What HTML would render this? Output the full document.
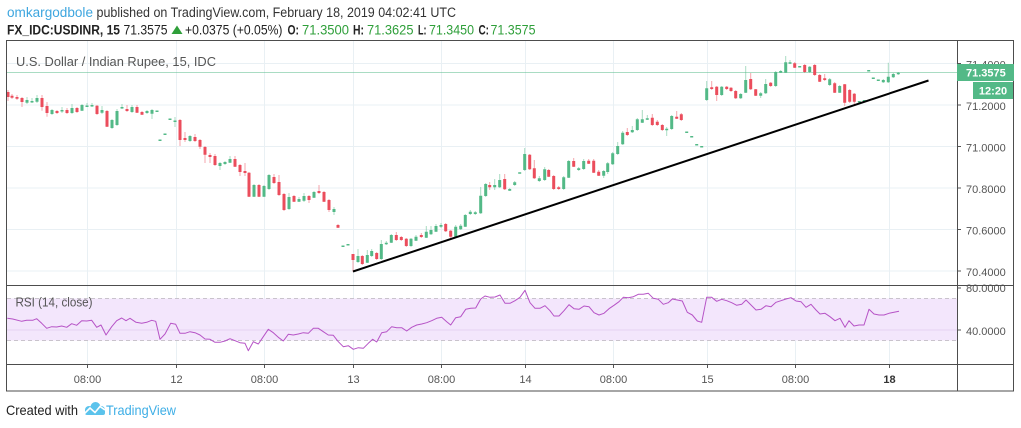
<!DOCTYPE html>
<html><head><meta charset="utf-8"><style>
html,body{margin:0;padding:0;background:#fff;}
svg{display:block;}
</style></head><body>
<svg width="1021" height="428" viewBox="0 0 1021 428" xmlns="http://www.w3.org/2000/svg" font-family="'Liberation Sans', sans-serif">
<defs><clipPath id="cp"><rect x="7" y="41" width="950" height="244"/></clipPath>
<clipPath id="cr"><rect x="7" y="286" width="950" height="78"/></clipPath></defs>
<rect width="1021" height="428" fill="#fff"/>
<!-- header -->
<text x="7" y="17" font-size="13.5" fill="#3ea6df" textLength="86" lengthAdjust="spacingAndGlyphs">omkargodbole</text>
<text x="96.5" y="17" font-size="13.5" fill="#333" textLength="359.5" lengthAdjust="spacingAndGlyphs">published on TradingView.com, February 18, 2019 04:02:41 UTC</text>
<g font-size="13.5">
<text x="7" y="34.5" font-weight="bold" fill="#222" textLength="113" lengthAdjust="spacingAndGlyphs">FX_IDC:USDINR, 15</text>
<text x="123.5" y="34.5" fill="#222" textLength="44" lengthAdjust="spacingAndGlyphs">71.3575</text>
<polygon points="171.5,34 182.5,34 177,25.5" fill="#2f9f3a"/>
<text x="185" y="34.5" fill="#222" textLength="97.5" lengthAdjust="spacingAndGlyphs">+0.0375 (+0.05%)</text>
<text x="287.5" y="34.5" font-weight="bold" fill="#222" textLength="11.5" lengthAdjust="spacingAndGlyphs">O:</text>
<text x="302" y="34.5" fill="#2f9f3a" textLength="47" lengthAdjust="spacingAndGlyphs">71.3500</text>
<text x="353" y="34.5" font-weight="bold" fill="#222" textLength="11" lengthAdjust="spacingAndGlyphs">H:</text>
<text x="367" y="34.5" fill="#2f9f3a" textLength="46.5" lengthAdjust="spacingAndGlyphs">71.3625</text>
<text x="418" y="34.5" font-weight="bold" fill="#222" textLength="8.5" lengthAdjust="spacingAndGlyphs">L:</text>
<text x="429" y="34.5" fill="#2f9f3a" textLength="45" lengthAdjust="spacingAndGlyphs">71.3450</text>
<text x="478.5" y="34.5" font-weight="bold" fill="#222" textLength="10.5" lengthAdjust="spacingAndGlyphs">C:</text>
<text x="490.5" y="34.5" fill="#2f9f3a" textLength="45" lengthAdjust="spacingAndGlyphs">71.3575</text>
</g>

<!-- grid -->
<g stroke="#e9f0f4" stroke-width="1">
<path d="M7,63.5H957M7,105H957M7,146.5H957M7,188H957M7,229.5H957M7,271H957"/>
<path d="M87.5,41V364M176.5,41V364M264.5,41V364M353.5,41V364M441.5,41V364M525.5,41V364M613.5,41V364M707.5,41V364M795.5,41V364M889.5,41V364"/>
</g>

<!-- RSI band -->
<rect x="7" y="298.5" width="950" height="42" fill="#f3e6fc"/>
<path d="M7,330H957" stroke="#e4d2f2" stroke-width="1"/>
<path d="M7,298.5H957M7,340.5H957" stroke="#c9c3cc" stroke-width="1" stroke-dasharray="4,3"/>

<!-- price line -->
<path d="M7,72.5H957" stroke="#53b987" stroke-opacity="0.5" stroke-width="1"/>

<!-- candles -->
<g clip-path="url(#cp)">
<path fill="none" stroke="#eb4d5c" stroke-opacity="0.5" stroke-width="1" d="M8,90V101 M12,94V99 M17,95V100 M22,97V107 M42,95V110.7 M47,102V116.7 M57,110V114 M67,108V114 M77,107V113 M97,105V115 M107,110V127 M127,105V112 M137,105V113 M142,111V115 M180,119V146 M185,132V142 M195,134V142 M200,139V149 M205,146V163 M210,153V163 M215,154V166 M235,156V167 M240,164V176 M245,163V176 M249,172V197 M259,184V197 M274,174V184 M279,175V196 M284,193V211 M294,195V202 M309,195V203 M319,185V194 M324,191V202 M329,199V212 M338,224V228 M353,254V271.7 M362.3,255V265 M376.7,252V260 M396.3,232V241 M401.3,236V241 M406.3,238V247 M421.3,233V238 M445.7,223V232 M450.7,230V238 M489.7,182V190 M504.7,174V190 M529.7,154V170 M534.3,160V179 M548.7,169V177 M553.7,175V190 M558.7,186V190 M573.7,158V167 M588.7,159V164 M593.7,159V173 M598.7,170V176 M627.3,128V136 M652.3,114V126 M657.3,120V126 M662.3,124V131 M676.7,111V119 M681.3,113V121 M711.7,81V90 M716.7,86V101 M726.7,86V90 M731,87V92 M735.7,90V99 M750.7,73V90 M755.7,89V96 M770.7,82V87 M794.7,62V68 M804.7,64V73 M814.7,64V76 M819.7,74V82 M824.7,74V81 M834.7,82V93 M844.7,84V106 M849.7,89V103 M854.3,93V105"/>
<path fill="none" stroke="#53b987" stroke-opacity="0.5" stroke-width="1" d="M27,97V104 M32,98V103 M37,95V103 M52,109V115 M62,107V113 M72,104V114 M82,104V111 M87,103V107 M92,103V107 M102,106V114 M112,119V129 M117,109V126 M122,104V109 M132,105V113 M147,110V114 M152,109V119 M175,117V127 M190,135V142 M220,162V170 M225,161V165 M230,156V163 M254,184V197 M264,185V197 M269,174V190 M289,193V210 M299,197V202 M304,193V202 M314,191V198 M334,207V215 M358,249V263 M367.3,250V263 M371.7,249V257 M381.3,240V260 M386.3,241V245 M391.3,234V243 M411,238V247 M416,235V241 M426.3,226V238 M431,226V235 M436,224V232 M441,223V228 M455.7,225V237 M460.7,224V230 M465.3,214V227 M470.3,210V215 M475.3,211V215 M480.7,187V214 M485.7,183V197 M494.7,179V190 M499.7,174V188 M509.7,188V191 M514.7,181V186 M524.7,148V171 M539.3,176V182 M544.7,167V181 M563.7,176V190 M568.7,160V178 M578.7,167V171 M583.7,159V170 M603.7,170V178 M607.7,162V174 M612.7,152V165 M617.7,142V155 M622.7,131V145 M632.3,126V133 M637.3,118V131 M642.3,110V123 M647.3,115V120 M666.7,127V136 M671.7,115V130 M706.7,81V101 M721.7,86V96 M740.7,93V99 M745.7,66V93 M760.7,92V98 M765.7,79V94 M775.7,71V87 M780.7,70V73 M785.7,56V73 M790,60V64 M809.7,66V73 M829.7,78V86 M839.7,85V93 M883.3,79V83 M888.3,62.7V83 M893.3,73V78 M898.3,72V75"/>
<path fill="#eb4d5c" d="M6.5,92h3v5h-3z M10.5,95.7h3v2h-3z M15.5,97h3v1.7h-3z M20.5,98h3v4h-3z M40.5,98h3v9h-3z M45.5,106h3v7h-3z M55.5,111h3v2h-3z M65.5,110h3v3h-3z M75.5,108h3v4h-3z M95.5,105.7h3v8.3h-3z M105.5,111h3v15.7h-3z M125.5,109h3v2h-3z M135.5,107h3v5.7h-3z M140.5,112h3v2.7h-3z M178.5,120h3v20h-3z M183.5,138h3v2h-3z M193.5,137h3v4h-3z M198.5,140h3v6.7h-3z M203.5,147h3v7.7h-3z M208.5,155h3v2h-3z M213.5,156h3v9h-3z M233.5,159h3v7.7h-3z M238.5,165h3v7h-3z M243.5,171h3v2h-3z M247.5,172.7h3v24h-3z M257.5,185h3v11.7h-3z M272.5,177h3v6h-3z M277.5,182h3v13h-3z M282.5,194h3v16h-3z M292.5,196h3v5.7h-3z M307.5,196h3v4h-3z M317.5,191h3v2h-3z M322.5,192h3v9.7h-3z M327.5,200h3v10h-3z M336.5,225h3v2.7h-3z M351.5,254h3v6h-3z M360.8,256h3v8h-3z M375.2,253h3v6h-3z M394.8,235h3v5h-3z M399.8,237h3v3h-3z M404.8,238.7h3v7.3h-3z M419.8,235h3v2h-3z M444.2,224h3v7.3h-3z M449.2,230.7h3v6h-3z M488.2,185h3v2.3h-3z M503.2,179h3v10.3h-3z M528.2,154.7h3v14.6h-3z M532.8,168.3h3v10h-3z M547.2,170h3v6.7h-3z M552.2,176h3v13h-3z M557.2,187.3h3v1.7h-3z M572.2,161h3v5.7h-3z M587.2,160.7h3v3h-3z M592.2,160.7h3v12h-3z M597.2,171.7h3v4h-3z M625.8,132h3v3h-3z M650.8,117.7h3v7.3h-3z M655.8,121.7h3v3.3h-3z M660.8,125h3v5h-3z M675.2,116.7h3v2h-3z M679.8,114.3h3v5.7h-3z M710.2,87.3h3v1.7h-3z M715.2,86.7h3v8.3h-3z M725.2,86.7h3v2.3h-3z M729.5,87.7h3v3.3h-3z M734.2,91h3v7.3h-3z M749.2,79h3v10.3h-3z M754.2,89.3h3v6.4h-3z M769.2,82.7h3v3.3h-3z M793.2,63.3h3v4.4h-3z M803.2,65h3v7h-3z M813.2,65h3v10h-3z M818.2,75h3v6.7h-3z M823.2,78.3h3v1.7h-3z M833.2,83.3h3v9.4h-3z M843.2,84.3h3v18.4h-3z M848.2,90h3v11.7h-3z M852.8,93.7h3v8h-3z"/>
<path fill="#53b987" d="M25.5,100h3v2.7h-3z M30.5,101h3v1.5h-3z M35.5,98h3v3.7h-3z M50.5,110h3v4h-3z M60.5,110h3v1.5h-3z M70.5,108h3v5h-3z M80.5,105h3v5.7h-3z M85.5,105.5h3v1.5h-3z M90.5,105h3v1.5h-3z M100.5,110h3v2.7h-3z M110.5,120h3v8h-3z M115.5,111h3v14h-3z M120.5,107h3v1.5h-3z M130.5,107h3v5h-3z M145.5,111h3v2h-3z M150.5,110h3v3.7h-3z M155.5,110.5h3v1.5h-3z M158.5,139.5h3v1.5h-3z M163.5,133.5h3v1.5h-3z M168.5,118.5h3v1.5h-3z M173.5,120.5h3v1.5h-3z M188.5,136h3v5h-3z M218.5,163h3v3h-3z M223.5,162h3v2h-3z M228.5,159h3v3.7h-3z M252.5,185h3v11.7h-3z M262.5,186h3v10.7h-3z M267.5,175h3v14h-3z M287.5,197h3v12h-3z M297.5,199h3v2.7h-3z M302.5,196h3v4.7h-3z M312.5,192h3v5.7h-3z M332.5,209h3v3h-3z M341.5,245.5h3v1.5h-3z M346.5,244h3v1.5h-3z M356.5,256h3v6h-3z M365.8,255h3v7.7h-3z M370.2,251h3v5h-3z M379.8,244h3v15h-3z M384.8,242.7h3v1.5h-3z M389.8,235h3v7.7h-3z M409.5,238.7h3v7.3h-3z M414.5,236.7h3v4h-3z M424.8,231.7h3v6h-3z M429.5,230h3v4.3h-3z M434.5,226h3v5.7h-3z M439.5,225h3v1.7h-3z M454.2,226.7h3v10h-3z M459.2,225.7h3v3.6h-3z M463.8,215h3v11.7h-3z M468.8,211.7h3v2.3h-3z M473.8,212.3h3v1.7h-3z M479.2,195.7h3v17.6h-3z M484.2,184h3v12h-3z M493.2,185h3v2.3h-3z M498.2,180h3v7.3h-3z M508.2,189h3v1.7h-3z M513.2,182.3h3v2.7h-3z M518.2,172.3h3v1.5h-3z M523.2,154h3v16h-3z M537.8,178.3h3v2.7h-3z M543.2,169.3h3v10.7h-3z M562.2,177.3h3v11.7h-3z M567.2,161h3v16.7h-3z M577.2,168.3h3v1.7h-3z M582.2,161h3v8h-3z M602.2,171h3v4.7h-3z M606.2,163.3h3v8.7h-3z M611.2,153.3h3v11h-3z M616.2,146h3v8h-3z M621.2,132.7h3v11.6h-3z M630.8,130h3v2.3h-3z M635.8,119.3h3v10.7h-3z M640.8,119.3h3v3.4h-3z M645.8,118.3h3v1.5h-3z M665.2,128.7h3v1.5h-3z M670.2,116h3v13h-3z M685.2,131.5h3v1.5h-3z M690.2,136h3v1.5h-3z M695.2,144h3v1.5h-3z M700.2,146h3v1.5h-3z M705.2,88.3h3v11.7h-3z M720.2,86.7h3v8.3h-3z M739.2,94h3v4.3h-3z M744.2,80h3v12.7h-3z M759.2,93.3h3v2.4h-3z M764.2,84h3v9.3h-3z M774.2,72h3v14h-3z M779.2,71h3v1.7h-3z M784.2,62.3h3v10.4h-3z M788.5,62.3h3v1.5h-3z M798.2,66h3v1.5h-3z M808.2,66.7h3v5.3h-3z M828.2,79.3h3v5.7h-3z M838.2,86h3v6.7h-3z M857.8,101h3v1.5h-3z M862.8,100h3v1.5h-3z M867.2,70h3v1.5h-3z M871.8,77.5h3v1.5h-3z M876.8,79.5h3v1.5h-3z M881.8,80h3v2.3h-3z M886.8,76.7h3v5.6h-3z M891.8,74h3v3.3h-3z M896.8,72.7h3v1.5h-3z"/>
<!-- trend line -->
<path d="M353,271.5L928.5,80.5" stroke="#000" stroke-width="2" fill="none"/>
</g>

<!-- RSI line -->
<g clip-path="url(#cr)">
<polyline fill="none" stroke="#b653c6" stroke-width="1" stroke-linejoin="round" points="7.3,318.3 12.7,319 21.7,321.3 26.7,320.3 32.7,320.3 36.7,318.7 41.7,323.3 46.7,328.3 51.7,326.7 56.7,327 61.7,326 66.7,327.3 71.7,323.7 76.7,325.3 81.7,320.7 86.7,321 91.7,320.3 96.7,327.3 101,325 106,335 111.7,326.7 116.7,320.7 121.7,318 126,320.7 130,318.3 136,322.3 141.7,323.3 146.7,322.3 151.7,320.3 155.7,321.3 160,339.3 165,334 170.7,323.3 175.7,324.3 180,333.3 185,333.3 190,331.7 195,332.7 200,335 205,339 210,339.3 215,342.3 220,342.3 225,341 230,338.7 235,340.7 240,342.7 245,343.3 248.3,350.7 253.3,341.7 258.3,344 263.3,336.7 268.3,329.3 273.3,332.7 278.3,337.3 283.3,341 288.3,334.3 293.3,335 298.3,334 303.3,332.7 308.3,333.3 313.3,328.3 318.3,328.3 323.3,331.7 328.3,335 333.3,335.3 338.3,341.7 343.3,346.7 348.3,345.7 353.3,349.3 358.3,347.7 363.3,348.3 368.3,343.3 372.7,339.3 376.7,342 381.7,332.7 386.7,331.7 391.7,326.7 396.7,327.7 401.7,327.7 406.7,331 411.7,327.3 416.7,325 421.7,324 426.7,322.7 431.7,320.7 436.7,318.3 441.7,317.3 446.7,321.7 450.7,325 455.7,317.7 460.7,316.7 465.7,309.3 470.7,308.3 475.7,308 480.7,299 485,296 490,297.3 495,297 500,295 505,303.3 510,303.3 515,300.7 520,297.3 525,290.3 530,302.7 535,308.3 540,308.3 545,305.7 550,310.7 554,316 559,316 564,310.7 569,304.7 574,308.7 579,309.3 584,306 589,306.7 594,312.7 599,315 604,313.3 609,308.7 614,305.3 619,301.7 623.3,297.3 628.3,297.7 633.3,296.7 638.3,294.3 643.3,294.3 648.3,293.3 653.3,298.3 658.3,299.3 663.3,304.3 668.3,302.7 672.3,299 677.3,300 682.3,301 687.3,312.3 692.3,315 697.3,321 701.7,322.3 706.7,297.3 711.7,297.3 716.7,301.3 721.7,299.3 726.7,300.7 731.7,302.7 736.7,305.3 741.7,304.3 746,300 751,305 756,310 761,309.3 766,305.7 771,306.7 776,302.3 781,300.7 786,299 791,297.7 796,301 801,301.7 806,307.3 811,304.3 816,310 820,314 825,313.3 830,316.7 835,320.7 840,318.3 845,327.3 849,320.7 854,326 859,325 864,325 869,309.3 874,314 879,315 884,315 889,313.3 894,312.3 899,311.3"/>
</g>

<!-- pane labels -->
<text x="16" y="66" font-size="13" fill="#555" textLength="200" lengthAdjust="spacingAndGlyphs">U.S. Dollar / Indian Rupee, 15, IDC</text>
<text x="15.5" y="306.5" font-size="12.5" fill="#555" textLength="77" lengthAdjust="spacingAndGlyphs">RSI (14, close)</text>

<!-- price axis labels -->
<g font-size="11" fill="#555">
<text x="966" y="68.5">71.4000</text>
<text x="966" y="110">71.2000</text>
<text x="966" y="151.5">71.0000</text>
<text x="966" y="193">70.8000</text>
<text x="966" y="234.5">70.6000</text>
<text x="966" y="276">70.4000</text>
<text x="966" y="292">80.0000</text>
<text x="966" y="335">40.0000</text>
</g>
<path d="M957,63.5h4M957,105h4M957,146.5h4M957,188h4M957,229.5h4M957,271h4M957,288h4M957,330h4" stroke="#555" stroke-width="1"/>
<rect x="958" y="41" width="55" height="3" fill="#fff"/>
<path d="M6,285.5H1014M6,364.5H1014M957.5,41V391" stroke="#4d4d4d" stroke-width="1"/>
<rect x="6.5" y="40.5" width="1007" height="350.5" fill="none" stroke="#4d4d4d" stroke-width="1"/>

<!-- price boxes -->
<rect x="957" y="64" width="57" height="17" fill="#53b987"/>
<text x="966" y="76.5" font-size="11" fill="#fff" font-weight="bold">71.3575</text>
<rect x="973" y="82" width="40" height="17" fill="#53b987"/>
<text x="993" y="94.5" font-size="11" fill="#fff" font-weight="bold" text-anchor="middle">12:20</text>

<!-- time axis -->
<path d="M87.5,365v3M176.5,365v3M264.5,365v3M353.5,365v3M441.5,365v3M525.5,365v3M613.5,365v3M707.5,365v3M795.5,365v3M889.5,365v3" stroke="#555" stroke-width="1"/>
<g font-size="11" fill="#555" text-anchor="middle">
<text x="87.5" y="383">08:00</text>
<text x="176.5" y="383">12</text>
<text x="264.5" y="383">08:00</text>
<text x="353.5" y="383">13</text>
<text x="441.5" y="383">08:00</text>
<text x="525.5" y="383">14</text>
<text x="613.5" y="383">08:00</text>
<text x="707.5" y="383">15</text>
<text x="795.5" y="383">08:00</text>
<text x="889.5" y="383" font-weight="bold" fill="#333">18</text>
</g>

<!-- footer -->
<text x="6" y="415" font-size="14" fill="#222" textLength="72" lengthAdjust="spacingAndGlyphs">Created with</text>
<g>
<circle cx="89" cy="410" r="4" fill="#5bc3ec"/>
<circle cx="95.5" cy="407" r="5" fill="#5bc3ec"/>
<circle cx="101" cy="410" r="4" fill="#5bc3ec"/>
<rect x="85" y="409" width="20" height="6" rx="2" fill="#5bc3ec"/>
<polyline points="84,414 90,408 95,412.5 100,406.5 105,410" fill="none" stroke="#fff" stroke-width="1.6"/>
</g>
<text x="106" y="415" font-size="14" fill="#3daee6" textLength="70" lengthAdjust="spacingAndGlyphs">TradingView</text>
</svg>
</body></html>
